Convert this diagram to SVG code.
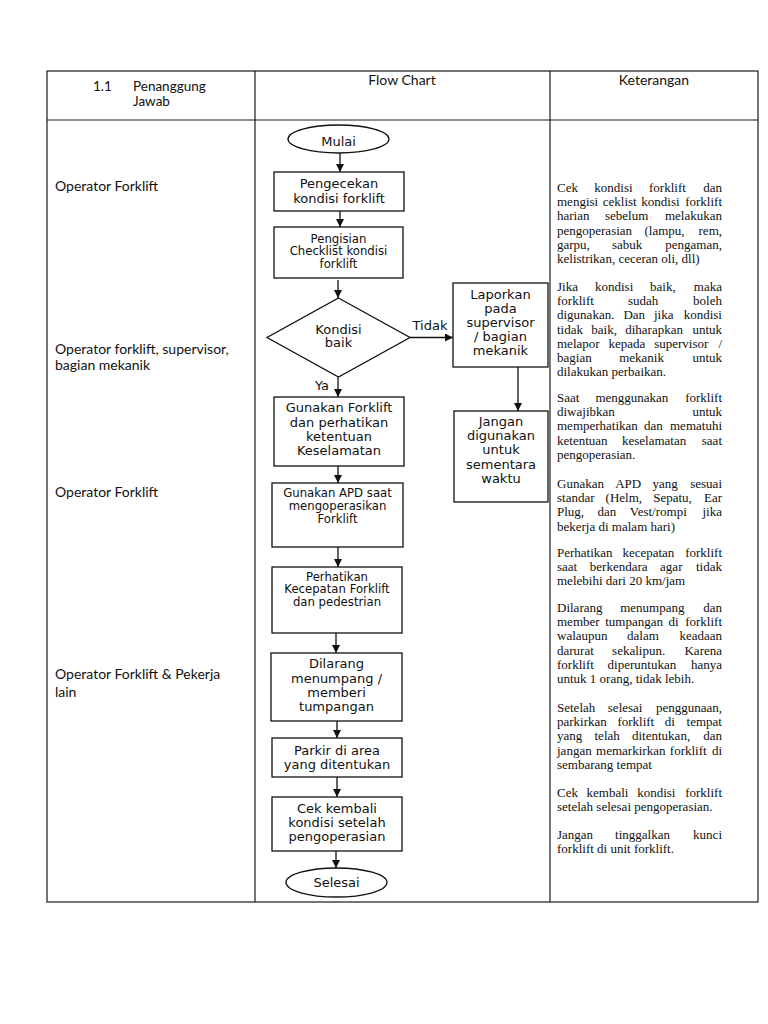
<svg xmlns="http://www.w3.org/2000/svg" width="768" height="1024" viewBox="0 0 768 1024">
<style>
.tbl{fill:none;stroke:#1a1a1a;stroke-width:1.2}
.shape{fill:#fff;stroke:#111;stroke-width:1.3}
.fc{font-family:"DejaVu Sans",sans-serif;font-size:13px;fill:#111;text-anchor:middle}
.fs{font-family:"DejaVu Sans",sans-serif;font-size:11.7px;fill:#111;text-anchor:middle}
.hd{font-family:Lato,"Liberation Sans",sans-serif;font-size:14px;fill:#111}
.hs{font-family:Lato,"Liberation Sans",sans-serif;font-size:13.5px;fill:#111}
.k{font-family:"Liberation Serif",serif;font-size:13px;fill:#111}
.ke{font-family:"Liberation Serif",serif;font-size:13px;fill:#111;text-anchor:end}
.conn{fill:none;stroke:#111;stroke-width:1.3}
</style>
<defs>
<marker id="ah" markerUnits="userSpaceOnUse" markerWidth="8" markerHeight="8" refX="8" refY="4" orient="auto">
<path d="M0,0 L8,4 L0,8 z" fill="#111"/>
</marker>
</defs>
<rect width="768" height="1024" fill="#fff"/>
<g id="table">
<rect class="tbl" x="47" y="71" width="711" height="831"/>
<line class="tbl" x1="47" y1="120" x2="758" y2="120"/>
<line class="tbl" x1="255" y1="71" x2="255" y2="902"/>
<line class="tbl" x1="550" y1="71" x2="550" y2="902"/>
</g>
<g id="header">
<text class="hs" x="93" y="91">1.1</text>
<text class="hs" x="133" y="91">Penanggung</text>
<text class="hs" x="133" y="106">Jawab</text>
<text class="hd" x="402" y="85" text-anchor="middle">Flow Chart</text>
<text class="hd" x="654" y="85" text-anchor="middle">Keterangan</text>
</g>
<g id="roles">
<text class="hd" x="55" y="191">Operator Forklift</text>
<text class="hd" x="55" y="354">Operator forklift, supervisor,</text>
<text class="hd" x="55" y="370">bagian mekanik</text>
<text class="hd" x="55" y="497">Operator Forklift</text>
<text class="hd" x="55" y="679">Operator Forklift &amp; Pekerja</text>
<text class="hd" x="55" y="697">lain</text>
</g>
<g id="connectors">
<line class="conn" x1="340" y1="153" x2="340" y2="172" marker-end="url(#ah)"/>
<line class="conn" x1="340" y1="211" x2="340" y2="227" marker-end="url(#ah)"/>
<line class="conn" x1="338" y1="280" x2="338" y2="298" marker-end="url(#ah)"/>
<line class="conn" x1="410" y1="337.5" x2="453" y2="337.5" marker-end="url(#ah)"/>
<line class="conn" x1="518" y1="367" x2="518" y2="411" marker-end="url(#ah)"/>
<line class="conn" x1="338" y1="377" x2="338" y2="397" marker-end="url(#ah)"/>
<line class="conn" x1="338" y1="466" x2="338" y2="483" marker-end="url(#ah)"/>
<line class="conn" x1="338" y1="547" x2="338" y2="567" marker-end="url(#ah)"/>
<line class="conn" x1="336" y1="633" x2="336" y2="653" marker-end="url(#ah)"/>
<line class="conn" x1="337" y1="721" x2="337" y2="738" marker-end="url(#ah)"/>
<line class="conn" x1="337" y1="777" x2="337" y2="797" marker-end="url(#ah)"/>
<line class="conn" x1="336" y1="851" x2="336" y2="868" marker-end="url(#ah)"/>
<text class="fc" x="430" y="329.5">Tidak</text>
<text class="fc" x="322" y="389.5">Ya</text>
</g>
<g id="mulai">
<ellipse class="shape" cx="338.5" cy="139" rx="50.5" ry="14"/>
<text class="fc" x="338.5" y="145.5">Mulai</text>
</g>
<g id="pengecekan">
<rect class="shape" x="274" y="172" width="130" height="39"/>
<text class="fc" x="339" y="188">Pengecekan</text>
<text class="fc" x="339" y="203">kondisi forklift</text>
</g>
<g id="pengisian">
<rect class="shape" x="274" y="227" width="129" height="51"/>
<text class="fs" x="338.5" y="242.5">Pengisian</text>
<text class="fs" x="338.5" y="254.5">Checklist kondisi</text>
<text class="fs" x="338.5" y="267.5">forklift</text>
</g>
<g id="kondisi">
<polygon class="shape" points="338.5,298 410,337.5 338.5,377 267,337.5"/>
<text class="fc" x="338.5" y="333.5">Kondisi</text>
<text class="fc" x="338.5" y="347">baik</text>
</g>
<g id="laporkan">
<rect class="shape" x="453" y="283" width="95" height="84"/>
<text class="fc" x="500.5" y="298.5">Laporkan</text>
<text class="fc" x="500.5" y="312.5">pada</text>
<text class="fc" x="500.5" y="326.8">supervisor</text>
<text class="fc" x="500.5" y="341">/ bagian</text>
<text class="fc" x="500.5" y="355">mekanik</text>
</g>
<g id="jangan">
<rect class="shape" x="454" y="411" width="94" height="91"/>
<text class="fc" x="501" y="425.7">Jangan</text>
<text class="fc" x="501" y="440">digunakan</text>
<text class="fc" x="501" y="454.3">untuk</text>
<text class="fc" x="501" y="468.6">sementara</text>
<text class="fc" x="501" y="483">waktu</text>
</g>
<g id="gunakan-forklift">
<rect class="shape" x="274" y="397" width="130" height="69"/>
<text class="fc" x="339" y="412.3">Gunakan Forklift</text>
<text class="fc" x="339" y="426.7">dan perhatikan</text>
<text class="fc" x="339" y="440.8">ketentuan</text>
<text class="fc" x="339" y="455">Keselamatan</text>
</g>
<g id="gunakan-apd">
<rect class="shape" x="272" y="483" width="131" height="64"/>
<text class="fs" x="337.5" y="497.3">Gunakan APD saat</text>
<text class="fs" x="337.5" y="509.5">mengoperasikan</text>
<text class="fs" x="337.5" y="522.7">Forklift</text>
</g>
<g id="perhatikan">
<rect class="shape" x="272" y="567" width="130" height="66"/>
<text class="fs" x="337" y="580.7">Perhatikan</text>
<text class="fs" x="337" y="592.7">Kecepatan Forklift</text>
<text class="fs" x="337" y="606">dan pedestrian</text>
</g>
<g id="dilarang">
<rect class="shape" x="271" y="653" width="131" height="68"/>
<text class="fc" x="336.5" y="668.3">Dilarang</text>
<text class="fc" x="336.5" y="682.7">menumpang /</text>
<text class="fc" x="336.5" y="696.7">memberi</text>
<text class="fc" x="336.5" y="710.7">tumpangan</text>
</g>
<g id="parkir">
<rect class="shape" x="272" y="738" width="130" height="39"/>
<text class="fc" x="337" y="755">Parkir di area</text>
<text class="fc" x="337" y="769.3">yang ditentukan</text>
</g>
<g id="cek-kembali">
<rect class="shape" x="272" y="797" width="130" height="54"/>
<text class="fc" x="337" y="812.7">Cek kembali</text>
<text class="fc" x="337" y="826.7">kondisi setelah</text>
<text class="fc" x="337" y="840.7">pengoperasian</text>
</g>
<g id="selesai">
<ellipse class="shape" cx="336.5" cy="882.5" rx="50.5" ry="14.5"/>
<text class="fc" x="336.5" y="887.3">Selesai</text>
</g>
<g id="keterangan">
<text class="k" y="192"><tspan x="557">Cek</tspan><tspan x="594.3">kondisi</tspan><tspan x="649">forklift</tspan></text><text class="ke" x="722" y="192">dan</text>
<text class="k" y="206.2"><tspan x="557">mengisi</tspan><tspan x="602.8">ceklist</tspan><tspan x="641.3">kondisi</tspan></text><text class="ke" x="722" y="206.2">forklift</text>
<text class="k" y="220.4"><tspan x="557">harian</tspan><tspan x="605">sebelum</tspan></text><text class="ke" x="722" y="220.4">melakukan</text>
<text class="k" y="234.6"><tspan x="557">pengoperasian</tspan><tspan x="644.5">(lampu,</tspan></text><text class="ke" x="722" y="234.6">rem,</text>
<text class="k" y="248.8"><tspan x="557">garpu,</tspan><tspan x="612">sabuk</tspan></text><text class="ke" x="722" y="248.8">pengaman,</text>
<text class="k" x="557" y="263">kelistrikan, ceceran oli, dll)</text>

<text class="k" y="291"><tspan x="557">Jika</tspan><tspan x="595">kondisi</tspan><tspan x="650">baik,</tspan></text><text class="ke" x="722" y="291">maka</text>
<text class="k" y="305.2"><tspan x="557">forklift</tspan><tspan x="628">sudah</tspan></text><text class="ke" x="722" y="305.2">boleh</text>
<text class="k" y="319.4"><tspan x="557">digunakan.</tspan><tspan x="623.4">Dan</tspan><tspan x="654">jika</tspan></text><text class="ke" x="722" y="319.4">kondisi</text>
<text class="k" y="333.6"><tspan x="557">tidak</tspan><tspan x="591.3">baik,</tspan><tspan x="625.2">diharapkan</tspan></text><text class="ke" x="722" y="333.6">untuk</text>
<text class="k" y="347.8"><tspan x="557">melapor</tspan><tspan x="608.5">kepada</tspan><tspan x="654.2">supervisor</tspan></text><text class="ke" x="722" y="347.8">/</text>
<text class="k" y="362"><tspan x="557">bagian</tspan><tspan x="619.2">mekanik</tspan></text><text class="ke" x="722" y="362">untuk</text>
<text class="k" x="557" y="376">dilakukan perbaikan.</text>

<text class="k" y="402"><tspan x="557">Saat</tspan><tspan x="595.4">menggunakan</tspan></text><text class="ke" x="722" y="402">forklift</text>
<text class="k" x="557" y="416.2">diwajibkan</text><text class="ke" x="722" y="416.2">untuk</text>
<text class="k" y="430.4"><tspan x="557">memperhatikan</tspan><tspan x="644">dan</tspan></text><text class="ke" x="722" y="430.4">mematuhi</text>
<text class="k" y="444.6"><tspan x="557">ketentuan</tspan><tspan x="622">keselamatan</tspan></text><text class="ke" x="722" y="444.6">saat</text>
<text class="k" x="557" y="458.8">pengoperasian.</text>

<text class="k" y="488"><tspan x="557">Gunakan</tspan><tspan x="615.2">APD</tspan><tspan x="652.5">yang</tspan></text><text class="ke" x="722" y="488">sesuai</text>
<text class="k" y="502.2"><tspan x="557">standar</tspan><tspan x="605.6">(Helm,</tspan><tspan x="653.2">Sepatu,</tspan></text><text class="ke" x="722" y="502.2">Ear</text>
<text class="k" y="516.4"><tspan x="557">Plug,</tspan><tspan x="597.5">dan</tspan><tspan x="629.7">Vest/rompi</tspan></text><text class="ke" x="722" y="516.4">jika</text>
<text class="k" x="557" y="530.6">bekerja di malam hari)</text>

<text class="k" y="557"><tspan x="557">Perhatikan</tspan><tspan x="622.4">kecepatan</tspan></text><text class="ke" x="722" y="557">forklift</text>
<text class="k" y="571.2"><tspan x="557">saat</tspan><tspan x="589.8">berkendara</tspan><tspan x="660.1">agar</tspan></text><text class="ke" x="722" y="571.2">tidak</text>
<text class="k" x="557" y="585.4">melebihi dari 20 km/jam</text>

<text class="k" y="612"><tspan x="557">Dilarang</tspan><tspan x="620.2">menumpang</tspan></text><text class="ke" x="722" y="612">dan</text>
<text class="k" y="626.2"><tspan x="557">member</tspan><tspan x="605.2">tumpangan</tspan><tspan x="668.6">di</tspan></text><text class="ke" x="722" y="626.2">forklift</text>
<text class="k" y="640.4"><tspan x="557">walaupun</tspan><tspan x="627">dalam</tspan></text><text class="ke" x="722" y="640.4">keadaan</text>
<text class="k" y="654.6"><tspan x="557">darurat</tspan><tspan x="612.1">sekalipun.</tspan></text><text class="ke" x="722" y="654.6">Karena</text>
<text class="k" y="668.8"><tspan x="557">forklift</tspan><tspan x="607.6">diperuntukan</tspan></text><text class="ke" x="722" y="668.8">hanya</text>
<text class="k" x="557" y="683">untuk 1 orang, tidak lebih.</text>

<text class="k" y="712"><tspan x="557">Setelah</tspan><tspan x="607.8">selesai</tspan></text><text class="ke" x="722" y="712">penggunaan,</text>
<text class="k" y="726.2"><tspan x="557">parkirkan</tspan><tspan x="617.4">forklift</tspan><tspan x="664.8">di</tspan></text><text class="ke" x="722" y="726.2">tempat</text>
<text class="k" y="740.4"><tspan x="557">yang</tspan><tspan x="594.5">telah</tspan><tspan x="632">ditentukan,</tspan></text><text class="ke" x="722" y="740.4">dan</text>
<text class="k" y="754.6"><tspan x="557">jangan</tspan><tspan x="596.1">memarkirkan</tspan><tspan x="669.8">forklift</tspan></text><text class="ke" x="722" y="754.6">di</text>
<text class="k" x="557" y="768.8">sembarang tempat</text>

<text class="k" y="797"><tspan x="557">Cek</tspan><tspan x="586.6">kembali</tspan><tspan x="637.2">kondisi</tspan></text><text class="ke" x="722" y="797">forklift</text>
<text class="k" x="557" y="811.2">setelah selesai pengoperasian.</text>

<text class="k" y="839"><tspan x="557">Jangan</tspan><tspan x="615.1">tinggalkan</tspan></text><text class="ke" x="722" y="839">kunci</text>
<text class="k" x="557" y="853.2">forklift di unit forklift.</text>
</g>
</svg>
